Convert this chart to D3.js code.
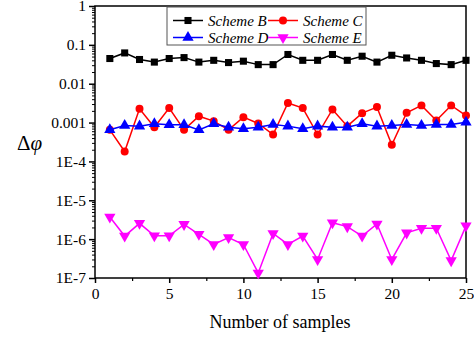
<!DOCTYPE html>
<html>
<head>
<meta charset="utf-8">
<script src="https://cdn.jsdelivr.net/npm/d3@7"></script>
<style>
body { margin: 0; background: #fff; }
text { font-family: "Liberation Serif", "Times New Roman", serif; }
</style>
</head>
<body>
<script>
var w = 474, h = 359;

// data
var samples = d3.range(1, 26);
var schemeB = [0.0445, 0.062, 0.042, 0.036, 0.0445, 0.047, 0.036, 0.040, 0.035, 0.038, 0.031, 0.031, 0.0565, 0.040, 0.040, 0.0565, 0.040, 0.051, 0.036, 0.054, 0.046, 0.040, 0.033, 0.031, 0.040];
var schemeC = [6.5e-4, 1.8e-4, 2.27e-3, 7.6e-4, 2.36e-3, 6.5e-4, 1.46e-3, 1.09e-3, 6.5e-4, 1.38e-3, 9.5e-4, 4.9e-4, 3.2e-3, 2.36e-3, 4.9e-4, 2.18e-3, 8.1e-4, 1.75e-3, 2.5e-3, 2.67e-4, 1.79e-3, 2.77e-3, 1.13e-3, 2.77e-3, 1.52e-3];
var schemeD = [6.5e-4, 8.4e-4, 8.1e-4, 9.3e-4, 8.8e-4, 8.8e-4, 6.5e-4, 9.3e-4, 7.6e-4, 6.9e-4, 7.6e-4, 8.9e-4, 8.1e-4, 6.9e-4, 8.1e-4, 7.6e-4, 7.6e-4, 9.3e-4, 8.1e-4, 8.4e-4, 8.9e-4, 8.4e-4, 8.9e-4, 8.9e-4, 1.02e-3];
var schemeE = [3.7e-6, 1.2e-6, 2.55e-6, 1.22e-6, 1.22e-6, 2.4e-6, 1.33e-6, 7.3e-7, 1.1e-6, 7.3e-7, 1.35e-7, 1.4e-6, 7.3e-7, 1.2e-6, 3.0e-7, 2.65e-6, 2.1e-6, 1.2e-6, 2.45e-6, 3.0e-7, 1.45e-6, 1.9e-6, 1.9e-6, 2.8e-7, 2.2e-6];
var seriesNames = ["Scheme B", "Scheme C", "Scheme D", "Scheme E"];
var yTicks = [1, 0.1, 0.01, 0.001, 1e-4, 1e-5, 1e-6, 1e-7];
var yTickLabels = ["1", "0.1", "0.01", "0.001", "1E-4", "1E-5", "1E-6", "1E-7"];
var xTicks = [0, 5, 10, 15, 20, 25];

var colors = ["#000000", "#ff0000", "#0000ff", "#ff00ff"];
var shapes = [d3.symbolSquare, d3.symbolCircle, d3.symbolTriangle, d3.symbolTriangle];
var flips = [0, 0, 0, 180];
var sizes = [50, 50, 55, 55];

var padL = 95, padR = 466, padT = 6, padB = 278;
var x = d3.scaleLinear().domain([0, 25]).range([padL, padR]);
var y = d3.scaleLog().domain([1e-7, 1]).range([padB, padT]);

const svg = d3.select("body").append("svg").attr("width", w).attr("height", h);

// minor ticks
var minorY = [];
for (var e = -7; e < 0; e++) {
  for (var k = 2; k <= 9; k++) minorY.push(k * Math.pow(10, e));
}
svg.append("g").attr("transform", "translate(" + padL + ",0)")
  .call(d3.axisLeft(y).tickValues(minorY).tickSize(3).tickFormat(""))
  .call(function (g) { g.select(".domain").remove(); g.selectAll("line").attr("stroke-width", 1); });
svg.append("g").attr("transform", "translate(0," + padB + ")")
  .call(d3.axisBottom(x).tickValues([2.5, 7.5, 12.5, 17.5, 22.5]).tickSize(3).tickFormat(""))
  .call(function (g) { g.select(".domain").remove(); g.selectAll("line").attr("stroke-width", 1.2); });

// major axes
var yAxis = svg.append("g").attr("transform", "translate(" + padL + ",0)")
  .call(d3.axisLeft(y).tickValues(yTicks).tickSize(6).tickPadding(3)
    .tickFormat(function (d, i) { return yTickLabels[i]; }));
yAxis.selectAll("text").attr("font-size", 15.5).attr("fill", "#000")
  .style("font-family", "Liberation Serif");
yAxis.selectAll("line").attr("stroke-width", 1.5);

var xAxis = svg.append("g").attr("transform", "translate(0," + padB + ")")
  .call(d3.axisBottom(x).tickValues(xTicks).tickSize(5).tickPadding(5));
xAxis.selectAll("text").attr("font-size", 15.5).attr("fill", "#000")
  .style("font-family", "Liberation Serif");
xAxis.selectAll("line").attr("stroke-width", 1.5);
svg.selectAll(".domain").remove();

// frame
svg.append("rect").attr("x", padL).attr("y", padT).attr("width", padR - padL).attr("height", padB - padT)
  .attr("fill", "none").attr("stroke", "#000").attr("stroke-width", 1.5);

// series
var all = [schemeB, schemeC, schemeD, schemeE];
var line = d3.line().x(function (d, i) { return x(samples[i]); }).y(function (d) { return y(d); });
all.forEach(function (vals, s) {
  svg.append("path").datum(vals).attr("d", line)
    .attr("fill", "none").attr("stroke", colors[s]).attr("stroke-width", 1.5);
  svg.append("g").selectAll("path").data(vals).enter().append("path")
    .attr("d", d3.symbol().type(shapes[s]).size(sizes[s]))
    .attr("transform", function (d, i) {
      return "translate(" + x(samples[i]) + "," + y(d) + ") rotate(" + flips[s] + ")";
    })
    .attr("fill", colors[s]);
});

// legend
var lg = svg.append("g");
lg.append("rect").attr("x", 167).attr("y", 7).attr("width", 199).attr("height", 38)
  .attr("fill", "#fff").attr("stroke", "#555").attr("stroke-width", 1);
var legPos = [[173, 20.5], [268, 20.5], [173, 37.5], [268, 37.5]];
seriesNames.forEach(function (name, s) {
  var p = legPos[s];
  lg.append("line").attr("x1", p[0]).attr("x2", p[0] + 30).attr("y1", p[1]).attr("y2", p[1])
    .attr("stroke", colors[s]).attr("stroke-width", 1.5);
  lg.append("path").attr("d", d3.symbol().type(shapes[s]).size(sizes[s]))
    .attr("transform", "translate(" + (p[0] + 15) + "," + p[1] + ") rotate(" + flips[s] + ")")
    .attr("fill", colors[s]);
  lg.append("text").attr("x", p[0] + 35).attr("y", p[1] + 5).attr("font-size", 15)
    .attr("font-style", "italic").text(name);
});

// axis titles
svg.append("text").attr("x", 280).attr("y", 328).attr("text-anchor", "middle")
  .attr("font-size", 18).text("Number of samples");
var yt = svg.append("text").attr("x", 17).attr("y", 150).attr("font-size", 21);
yt.append("tspan").text("\u0394");
yt.append("tspan").attr("font-style", "italic").text("\u03c6");
</script>
</body>
</html>
